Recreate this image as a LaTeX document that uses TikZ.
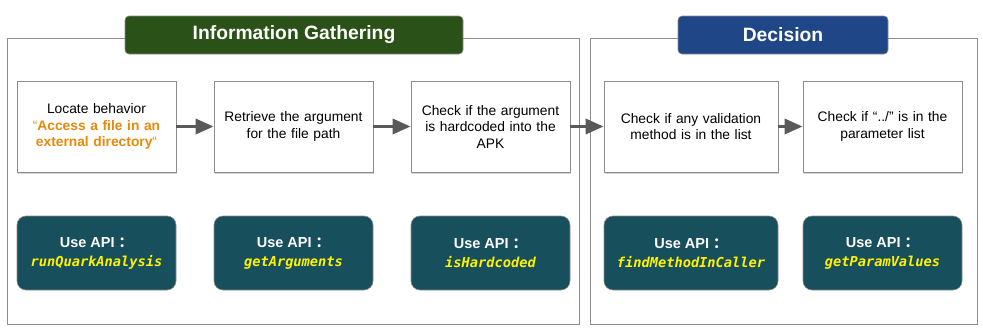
\documentclass[tikz,border=0pt]{standalone}
\usepackage{fontspec}
\setmainfont{Liberation Sans}
\newfontfamily\cjk{Noto Sans CJK SC}
\newfontfamily\apifont{DejaVu Sans Mono}
\usetikzlibrary{arrows.meta, shadows}

\definecolor{framegray}{HTML}{8C8C8C}
\definecolor{gathergreen}{HTML}{2A5117}
\definecolor{decideblue}{HTML}{1F4788}
\definecolor{apiteal}{HTML}{174F5C}
\definecolor{behaviororange}{HTML}{E8890C}
\definecolor{arrowgray}{HTML}{595959}

\tikzset{
    stagebox/.style={draw=framegray, line width=0.8pt, fill=white,
        drop shadow={shadow xshift=1pt, shadow yshift=-1.5pt, opacity=0.35},
        minimum width=159pt, minimum height=91pt, text width=156pt,
        align=center, font=\fontsize{13.8}{16.5}\selectfont, inner sep=0pt},
    apibox/.style={draw=framegray, line width=0.6pt, fill=apiteal,
        rounded corners=9pt, minimum width=159pt, minimum height=74pt,
        align=center, text=white, inner sep=0pt},
    header/.style={draw=framegray, line width=0.6pt, rounded corners=4pt,
        minimum height=38pt, text=white, inner sep=0pt,
        font=\bfseries\fontsize{19.3}{22}\selectfont},
    flow/.style={draw=arrowgray, line width=3.5pt,
        -{Triangle[length=18pt, width=15pt]}},
}

\newcommand{\useapi}[1]{{\bfseries\fontsize{14.5}{17}\selectfont Use API {\cjk ：}}\\[7pt]
    {\apifont\bfseries\itshape\fontsize{13.7}{15}\selectfont\color{yellow}#1}}

\begin{document}
\begin{tikzpicture}[x=1pt, y=-1pt]
    \useasboundingbox (0, 0) rectangle (983, 332);

    % Stage frames
    \draw[framegray, line width=1pt] (7, 38) rectangle (579, 324);
    \draw[framegray, line width=1pt] (590, 38) rectangle (977, 324);

    % Stage headers
    \node[header, fill=gathergreen, minimum width=338pt] (gather) at (294, 35) {Information Gathering};
    \node[header, fill=decideblue, minimum width=210pt] (decide) at (783, 35) {Decision};

    % Steps
    \node[stagebox] (locate) at (96.5, 126.5) {Locate behavior\\
        {\color{behaviororange}\textquotedblleft\textbf{Access a file in an}}\\
        {\color{behaviororange}\textbf{external directory}\textquotedblleft}};
    \node[stagebox] (retrieve) at (293.5, 126.5) {Retrieve the argument\\for the file path\\[10pt]};
    \node[stagebox] (hardcoded) at (490.5, 126.5) {Check if the argument\\is hardcoded into the\\APK};
    \node[stagebox, minimum width=174pt] (validation) at (691, 126.5) {Check if any validation\\method is in the list\\[10pt]};
    \node[stagebox] (dotdot) at (882.5, 126.5) {Check if \textquotedblleft../\textquotedblright{} is in the\\parameter list\\[10pt]};

    % APIs
    \node[apibox] (api1) at (96.5, 253) {\useapi{runQuarkAnalysis}};
    \node[apibox] (api2) at (293.5, 253) {\useapi{getArguments}};
    \node[apibox] (api3) at (490.5, 253) {\useapi{isHardcoded}};
    \node[apibox, minimum width=174pt] (api4) at (691, 253) {\useapi{findMethodInCaller}};
    \node[apibox] (api5) at (882.5, 253) {\useapi{getParamValues}};

    % Flow between steps
    \draw[flow] (locate) -- (retrieve);
    \draw[flow] (retrieve) -- (hardcoded);
    \draw[flow] (hardcoded) -- (validation);
    \draw[flow] (validation) -- (dotdot);
\end{tikzpicture}
\end{document}
